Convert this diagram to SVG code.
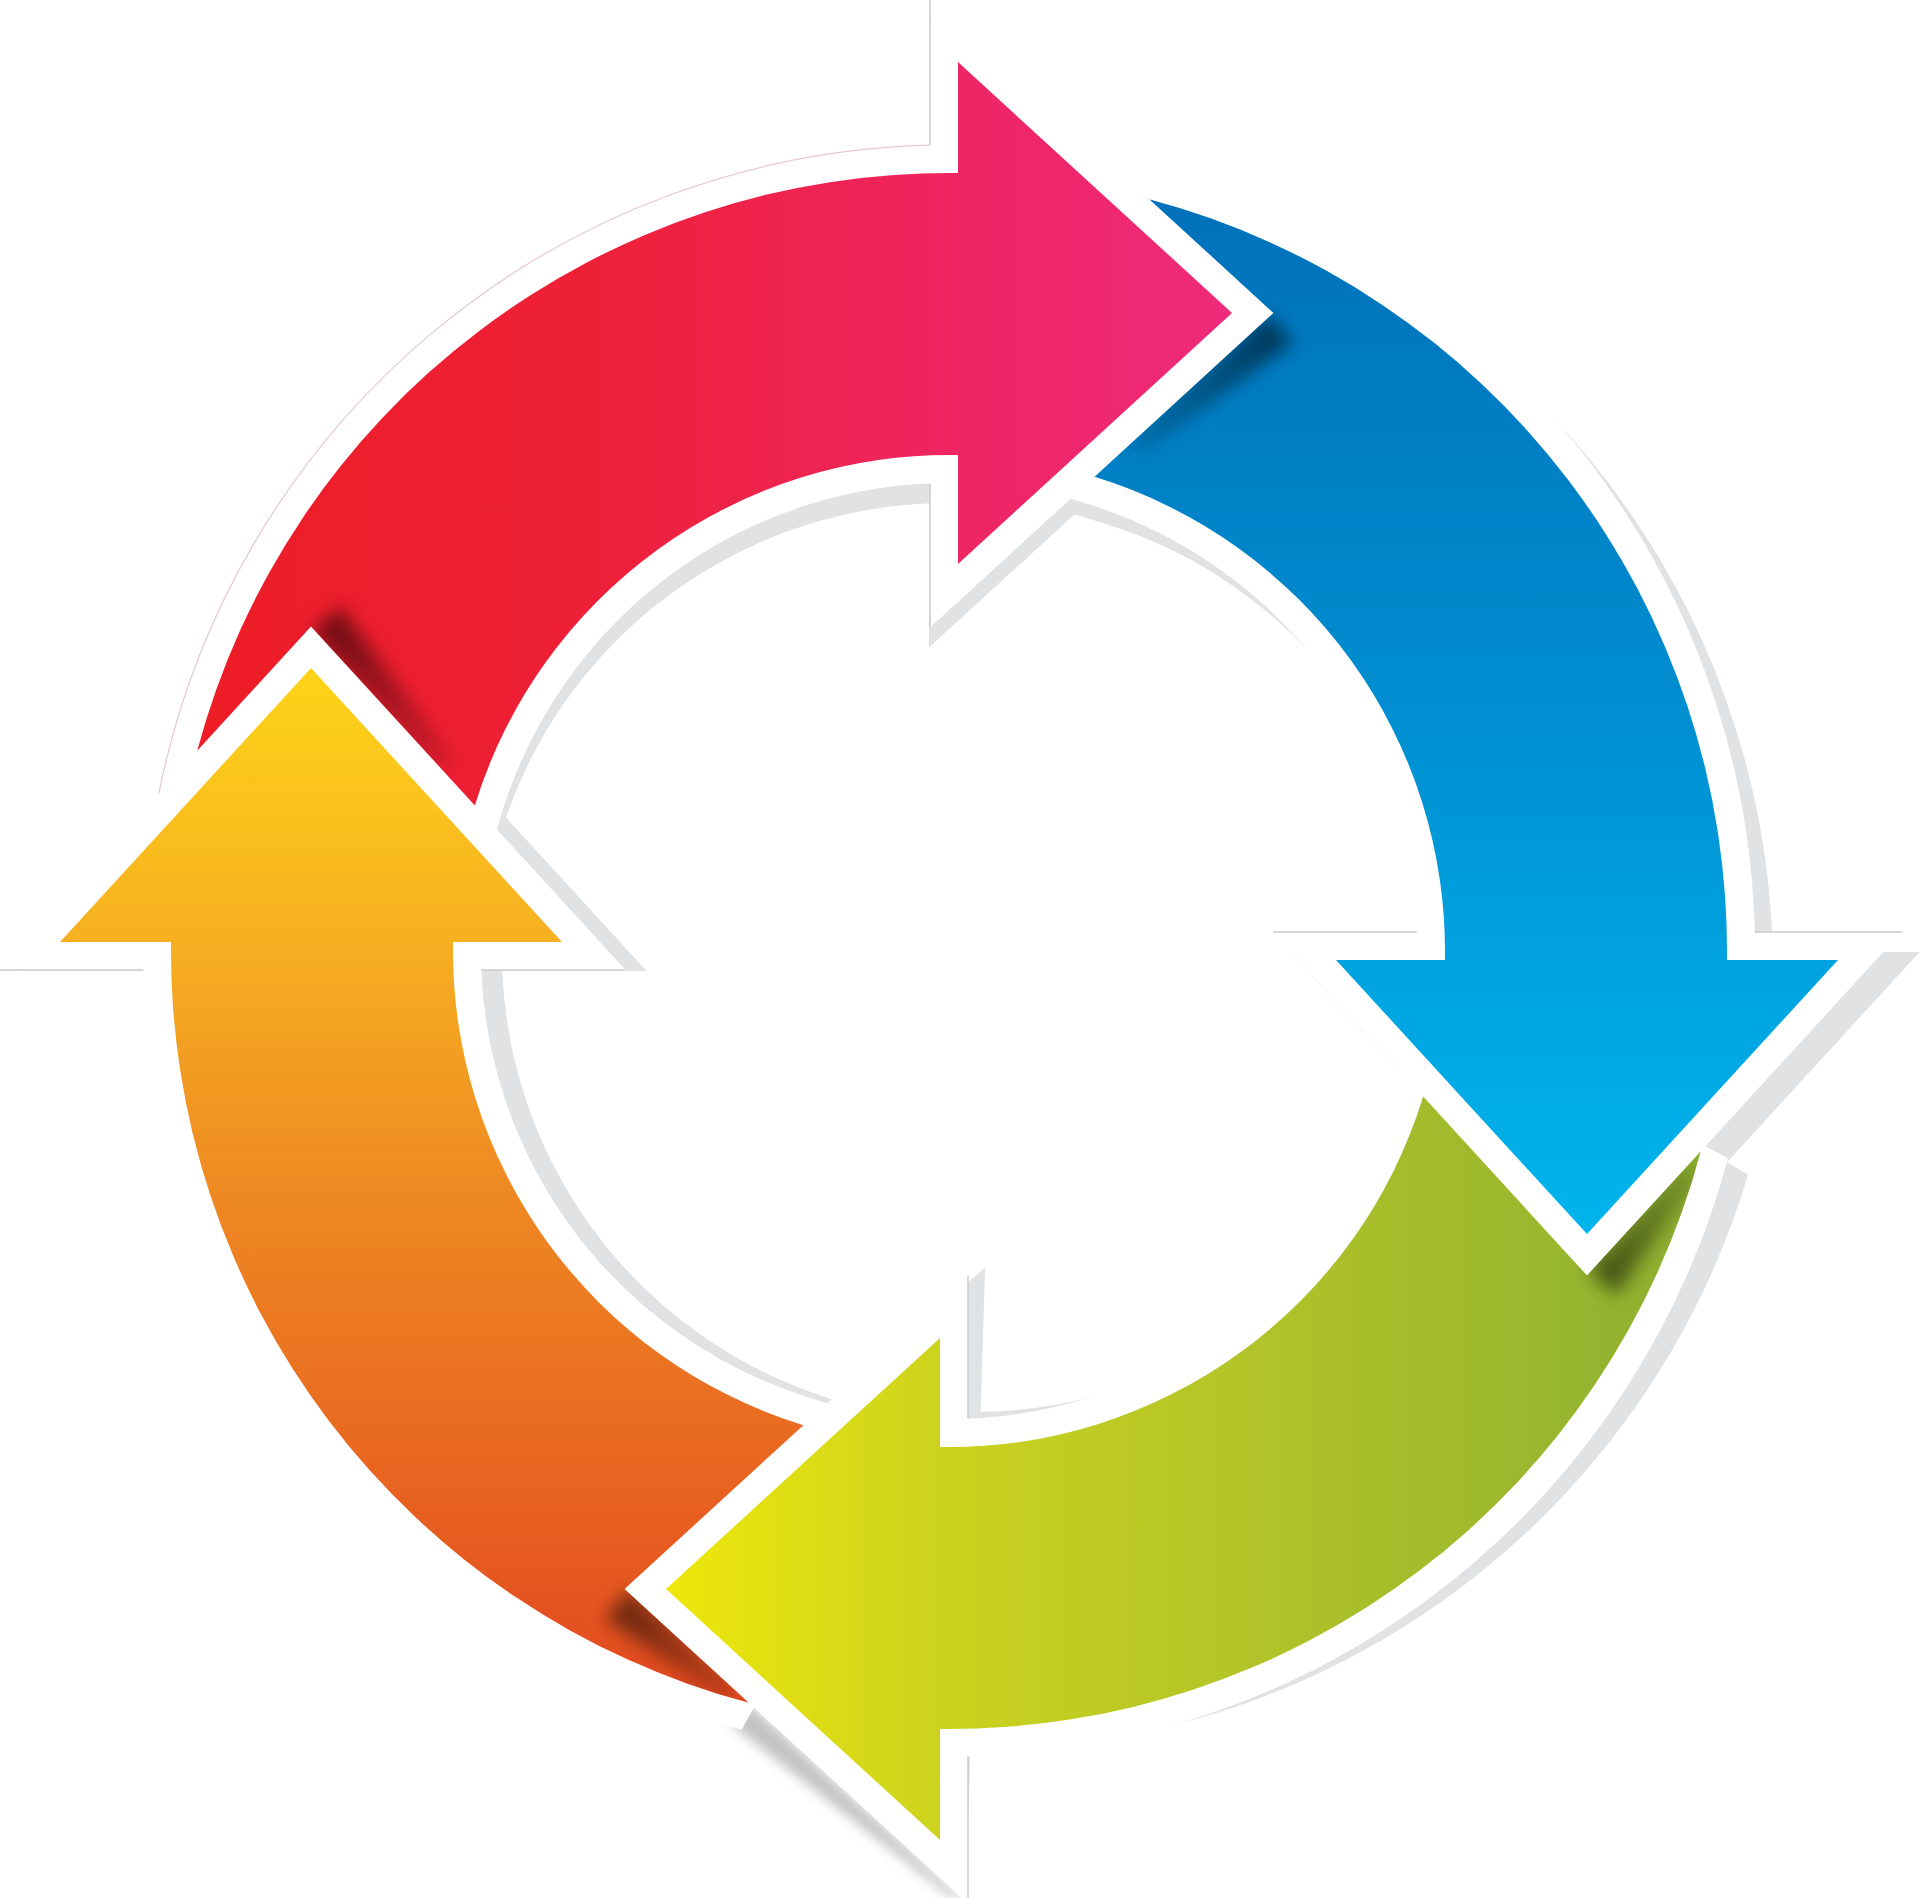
<svg xmlns="http://www.w3.org/2000/svg" xmlns:xlink="http://www.w3.org/1999/xlink" width="1920" height="1898" viewBox="0 0 1920 1898">
<style>
.back{fill:#e1e2e3;stroke:#e1e2e3;stroke-width:56;stroke-linejoin:miter}
.border{fill:#fff;stroke:#fff;stroke-width:56;stroke-linejoin:miter}
.edge{fill:none;stroke:#cbcbcb;stroke-width:1.5}
</style>
<defs>
<path id="shape" d="M 197.21 750.77 L 311 626.55 L 474.85 805.41 A 496 496 0 0 1 958 455.08 L 958 564 L 1232 313 L 958 62 L 958 173.05 A 778 778 0 0 0 197.21 750.77 Z"/>
<path id="baseLines" d="M 930 -2 V 145.2 M 930 483.4 V 626.6"/>
<clipPath id="clipShape"><use href="#shape"/></clipPath>
<clipPath id="backClip"><polygon points="-200,-200 2200,-200 2200,2200 -200,2200 -200,1184 243.7,700 -200,700"/></clipPath>
<linearGradient id="gRed" gradientUnits="userSpaceOnUse" x1="170" y1="0" x2="1232" y2="0">
<stop offset="0" stop-color="#ED1C24"/><stop offset="0.4" stop-color="#EE2038"/><stop offset="0.74" stop-color="#EE2562"/><stop offset="1" stop-color="#EE2A7B"/>
</linearGradient>
<linearGradient id="gBlue" gradientUnits="userSpaceOnUse" x1="170" y1="0" x2="1232" y2="0">
<stop offset="0" stop-color="#006FB9"/><stop offset="0.5" stop-color="#008ED0"/><stop offset="0.74" stop-color="#00A2DF"/><stop offset="1" stop-color="#00B4EC"/>
</linearGradient>
<linearGradient id="gGreen" gradientUnits="userSpaceOnUse" x1="170" y1="0" x2="1232" y2="0">
<stop offset="0" stop-color="#8AAE31"/><stop offset="0.5" stop-color="#B6C627"/><stop offset="0.74" stop-color="#CCD31E"/><stop offset="1" stop-color="#EFE70B"/>
</linearGradient>
<linearGradient id="gOrange" gradientUnits="userSpaceOnUse" x1="170" y1="0" x2="1232" y2="0">
<stop offset="0" stop-color="#E2441F"/><stop offset="0.5" stop-color="#EE8822"/><stop offset="0.74" stop-color="#F6AF21"/><stop offset="1" stop-color="#FDD418"/>
</linearGradient>
<linearGradient id="shTB" gradientUnits="userSpaceOnUse" x1="311" y1="626.55" x2="474.85" y2="805.41">
<stop offset="0" stop-color="#000" stop-opacity="0.55"/><stop offset="1" stop-color="#000" stop-opacity="0.03"/>
</linearGradient>
<linearGradient id="shTA" gradientUnits="userSpaceOnUse" x1="311" y1="626.55" x2="197.21" y2="750.77">
<stop offset="0" stop-color="#000" stop-opacity="0.55"/><stop offset="1" stop-color="#000" stop-opacity="0.12"/>
</linearGradient>
<filter id="blur" x="-50%" y="-50%" width="200%" height="200%"><feGaussianBlur stdDeviation="9"/></filter>
<filter id="blurS" x="-50%" y="-50%" width="200%" height="200%"><feGaussianBlur stdDeviation="6"/></filter>
</defs>
<rect width="1920" height="1898" fill="#fff"/>
<g id="back-sheets">
<use href="#shape" class="back" clip-path="url(#backClip)" transform="translate(-1 20)"/>
<g transform="translate(18 20)"><use href="#shape" class="back" clip-path="url(#backClip)" transform="rotate(90 949 951)"/></g>
<g transform="rotate(1.75 1200 1830)"><use href="#shape" class="back" transform="rotate(180 949 951)"/></g>
<g transform="translate(21 1)"><use href="#shape" class="back" clip-path="url(#backClip)" transform="rotate(270 949 951)"/></g>
<polygon points="749.8,1703.9 959.9,1896.6 955.8,1901 730.9,1724.5" fill="#7a7a7a" opacity="0.45" filter="url(#blurS)"/>
</g>
<g id="borders">
<use href="#shape" class="border"/>
<use href="#shape" class="border" transform="rotate(90 949 951)"/>
<use href="#shape" class="border" transform="rotate(180 949 951)"/>
<use href="#shape" class="border" transform="rotate(270 949 951)"/>
</g>
<g id="edge-lines">
<use href="#baseLines" class="edge"/>
<use href="#baseLines" class="edge" transform="rotate(90 949 951)"/>
<use href="#baseLines" class="edge" transform="rotate(180 949 951)"/>
<use href="#baseLines" class="edge" transform="rotate(270 949 951)"/>
<path d="M 159 793 A 806 806 0 0 1 930 145.2" fill="none" stroke="#e6c8d0" stroke-width="1.2"/>
</g>
<g id="arrow-red">
<use href="#shape" fill="url(#gRed)"/>
<g clip-path="url(#clipShape)"><polygon points="312.2,632.3 439.8,771.6 453.1,759.5 340.2,606.6" fill="url(#shTB)" filter="url(#blur)"/></g>
</g>
<g id="arrow-blue" transform="rotate(90 949 951)">
<use href="#shape" fill="url(#gBlue)"/>
<g clip-path="url(#clipShape)"><polygon points="312.2,632.3 439.8,771.6 453.1,759.5 340.2,606.6" fill="url(#shTB)" filter="url(#blur)"/></g>
</g>
<g id="arrow-green" transform="rotate(180 949 951)">
<use href="#shape" fill="url(#gGreen)"/>
<g clip-path="url(#clipShape)"><polygon points="309.8,632.3 210.8,740.4 197.5,728.2 281.8,606.6" fill="url(#shTA)" filter="url(#blur)"/></g>
</g>
<g id="arrow-orange" transform="rotate(270 949 951)">
<use href="#shape" fill="url(#gOrange)"/>
<g clip-path="url(#clipShape)"><polygon points="309.8,632.3 210.8,740.4 197.5,728.2 281.8,606.6" fill="url(#shTA)" filter="url(#blur)"/></g>
</g>
</svg>
